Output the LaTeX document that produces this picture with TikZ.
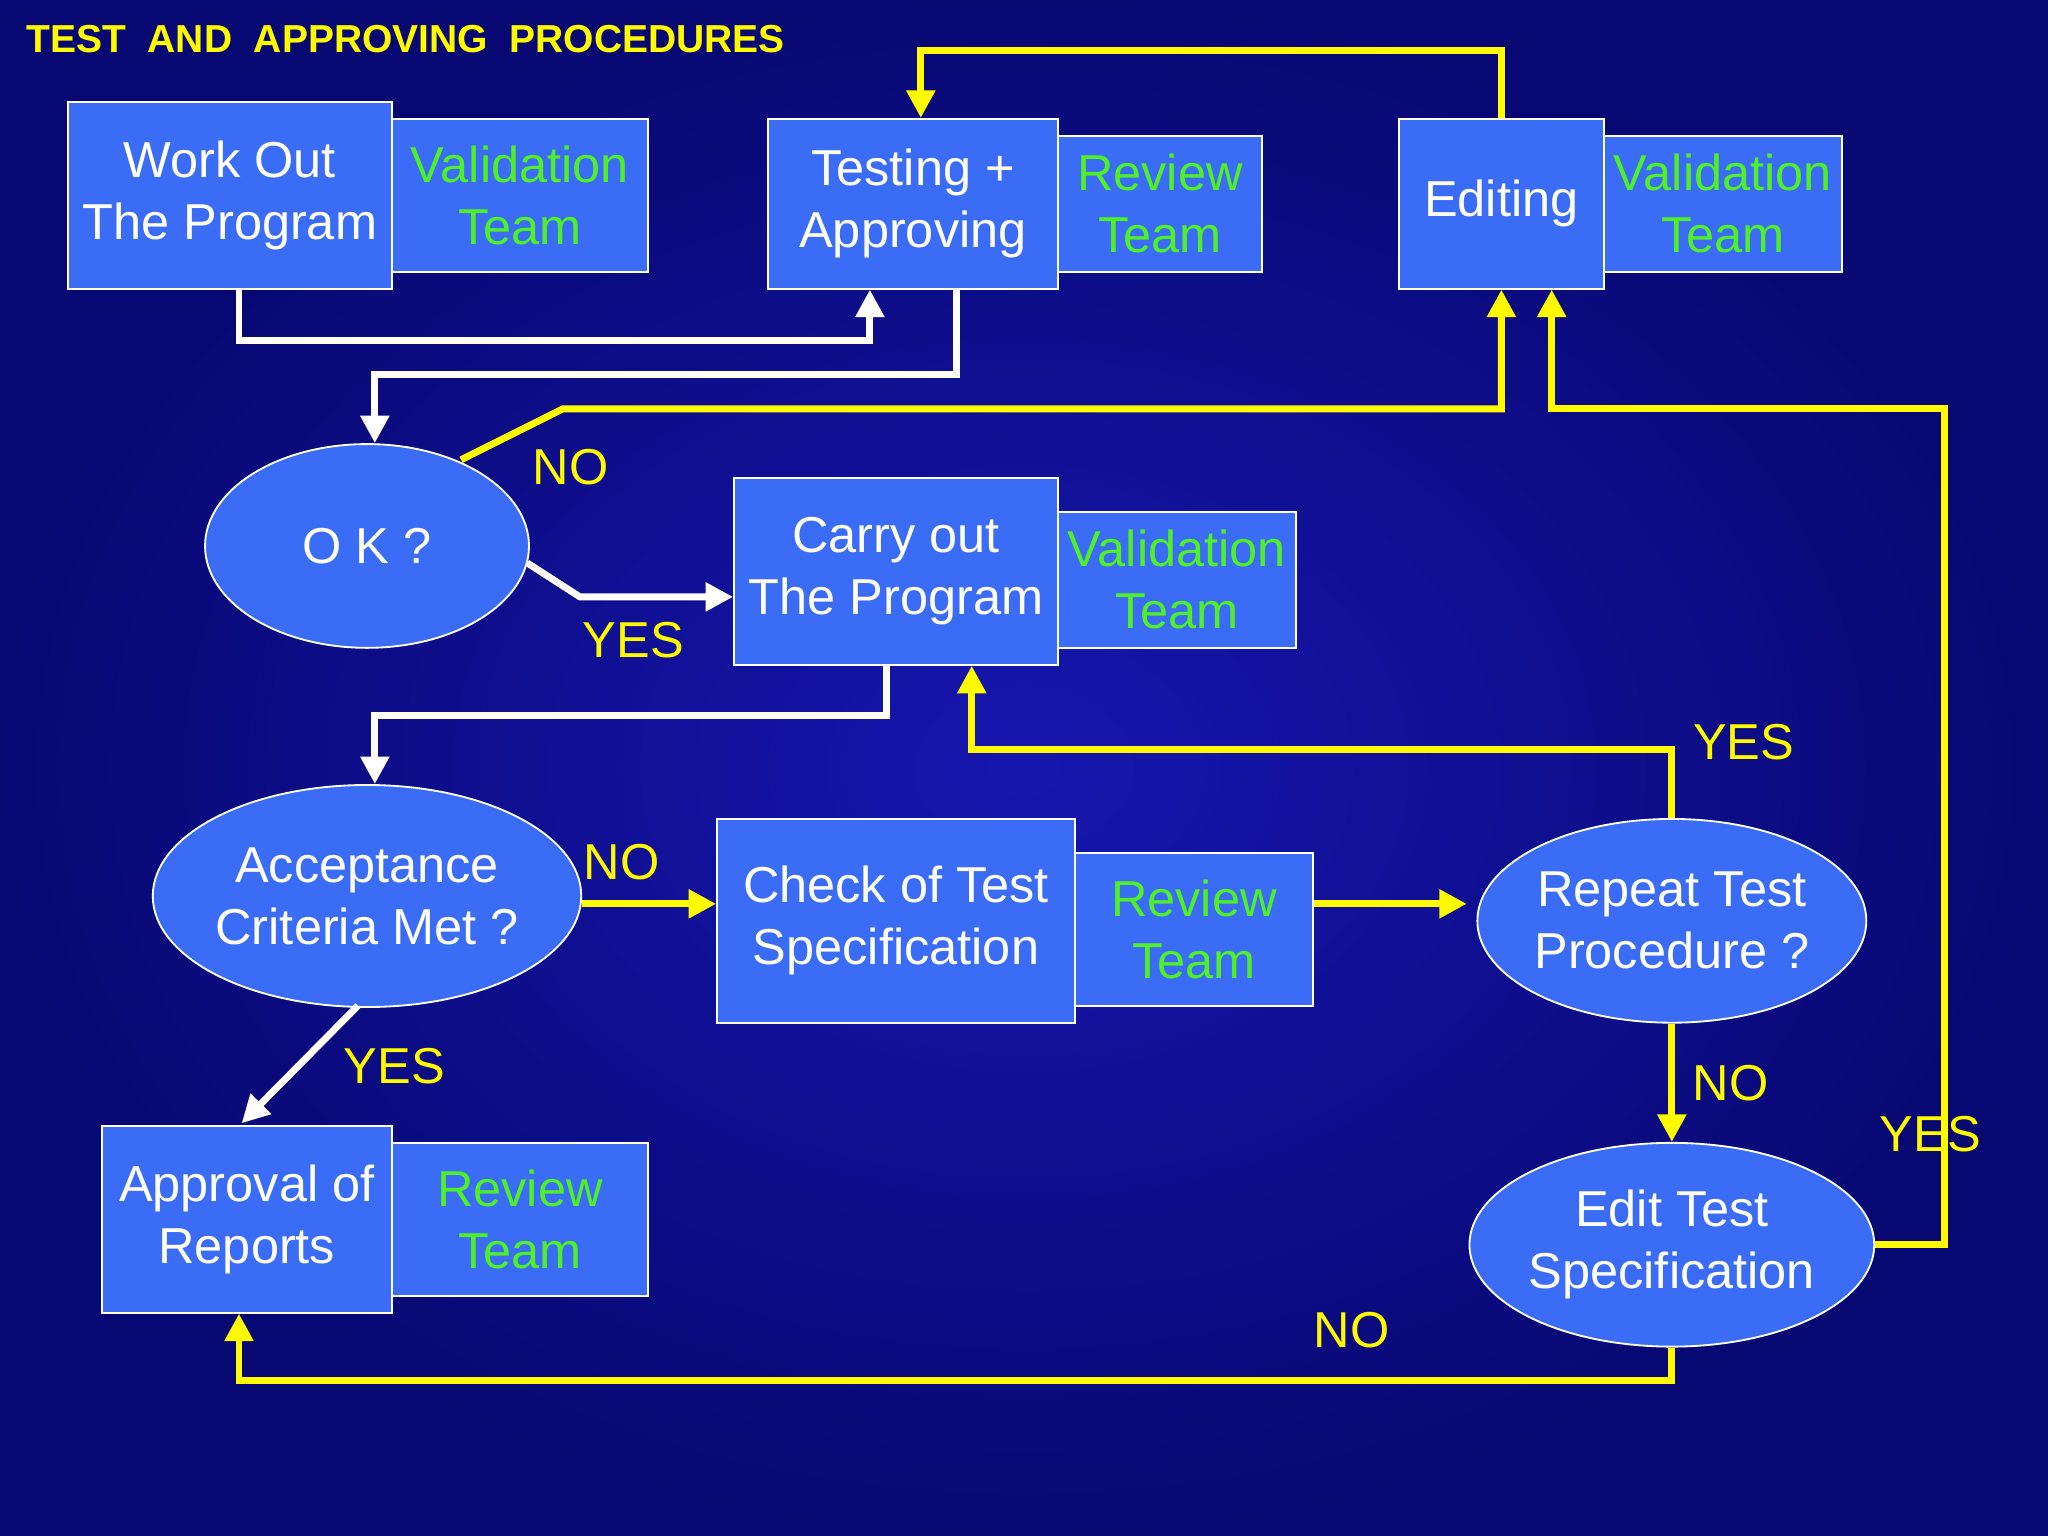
\documentclass[tikz,border=0pt]{standalone}
\usepackage{fontspec}
\setmainfont{Liberation Sans}
\usetikzlibrary{shapes.geometric,arrows.meta,calc}
\definecolor{bgin}{RGB}{22,22,175}
\definecolor{bgout}{RGB}{8,8,115}
\definecolor{boxc}{RGB}{58,108,245}
\definecolor{yel}{RGB}{255,250,0}
\definecolor{grn}{RGB}{80,240,40}
\begin{document}
\begin{tikzpicture}[x=0.02cm,y=-0.02cm,
  box/.style={draw=white,line width=0.8pt,fill=boxc,text=white,align=center,font=\fontsize{22}{27}\selectfont,inner sep=0pt},
  side/.style={box,text=grn},
  ell/.style={box,ellipse},
  wl/.style={draw=white,line width=3pt},
  yl/.style={draw=yel,line width=3pt},
  arr/.style={-{Triangle[length=12pt,width=12pt]}},
  lab/.style={text=yel,font=\fontsize{22}{26}\selectfont}]
\useasboundingbox (0,0) rectangle (1568,1176);
\shade[inner color=bgin,outer color=bgout] (0,0) rectangle (1568,1176);
\node[anchor=west,text=yel,font=\bfseries\fontsize{17}{20}\selectfont] (title) at (14,30) {TEST\ \ AND\ \ APPROVING\ \ PROCEDURES};
\newcommand\bx[7]{\node[#7,minimum width=#4*0.02cm,minimum height=#5*0.02cm] (#1) at (#2,#3) {#6};}
\bx{v1}{398}{149.5}{196}{117}{Validation\\Team}{side}
\bx{wo}{176}{149.5}{248}{143}{Work Out\\The Program}{box}
\bx{r1}{888}{156}{156}{104}{Review\\Team}{side}
\bx{tst}{699}{156}{222}{130}{Testing +\\Approving}{box}
\bx{v2}{1319}{156}{182}{104}{Validation\\Team}{side}
\bx{ed}{1149.5}{156}{157}{130}{Editing}{box}
\bx{v3}{901}{444}{182}{104}{Validation\\Team}{side}
\bx{co}{686}{437.5}{248}{143}{Carry out\\The Program}{box}
\bx{r2}{914}{711.5}{182}{117}{Review\\Team}{side}
\bx{ck}{686}{705}{274}{156}{Check of Test\\Specification}{box}
\bx{r3}{398}{933.5}{196}{117}{Review\\Team}{side}
\bx{ap}{189}{933.5}{222}{143}{Approval of\\Reports}{box}
\bx{ok}{281}{418}{248}{156}{O K ?}{ell}
\bx{ac}{281}{686}{274}{170}{Acceptance\\Criteria Met ?}{ell}
\bx{rp}{1280}{705}{286}{156}{Repeat Test\\Procedure ?}{ell}
\bx{et}{1280}{953}{286}{156}{Edit Test\\Specification}{ell}
% white connectors
\draw[wl,arr] (wo.south -| 183,0) |- (666,261) -- (tst.south -| 666,0);
\draw[wl,arr] (tst.south -| 732,0) |- (287,287) -- (ok.north -| 287,0);
\draw[wl,arr] (ok.east |- 0,431) ++(-2,0) -- (444,457) -- (co.west |- 0,457);
\draw[wl,arr] (co.south -| 679,0) |- (287,548) -- (ac.north -| 287,0);
\draw[wl,arr] (274,770) -- (185,860);
% yellow connectors
\draw[yl,arr] (ed.north) |- (705,39) -- (tst.north -| 705,0);
\draw[yl,arr] (353,352) -- (431,313) -| (ed.south);
\draw[yl,arr] (ac.east |- 0,692) -- (ck.west |- 0,692);
\draw[yl,arr] (r2.east |- 0,692) -- (1123,692);
\draw[yl,arr] (rp.north) |- (744,574) -- (co.south -| 744,0);
\draw[yl,arr] (rp.south) -- (et.north);
\draw[yl,arr] (et.east) -| (1489,313) -| (ed.south -| 1188,0);
\draw[yl,arr] (et.south) |- (183,1057) -- (ap.south -| 183,0);
% labels
\node[lab] (l1) at (437,358) {NO};
\node[lab] (l2) at (485,490) {YES};
\node[lab] (l3) at (1335,568) {YES};
\node[lab] (l4) at (476,660) {NO};
\node[lab] (l5) at (302,816) {YES};
\node[lab] (l6) at (1325,829) {NO};
\node[lab] (l7) at (1478,868) {YES};
\node[lab] (l8) at (1035,1018) {NO};
\end{tikzpicture}
\end{document}
